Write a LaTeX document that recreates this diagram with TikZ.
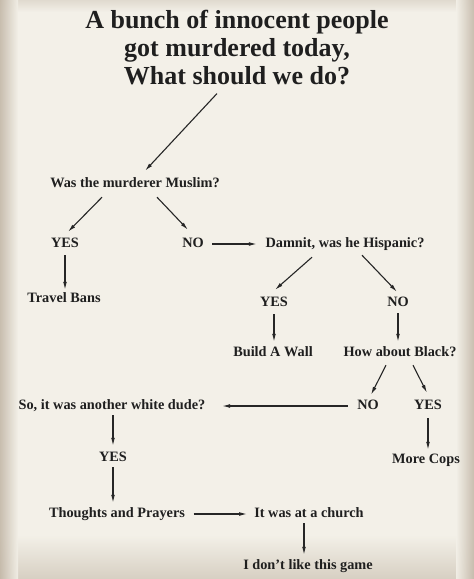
\documentclass[tikz,border=0pt]{standalone}
\usepackage{fontspec}
\setmainfont{Liberation Serif}
\usepackage{tikz}
\usetikzlibrary{arrows.meta,calc}
\definecolor{paper}{HTML}{F3F0E8}
\definecolor{edge}{HTML}{C4B9A9}

\begin{document}
\begin{tikzpicture}[x=1pt, y=-1pt, >={Latex[length=8pt,width=3.8pt]},
  t/.style={font=\fontsize{14.3}{16}\selectfont\bfseries, text=black!88, inner sep=0pt, text height=9pt, text depth=2pt},
  arr/.style={->, line width=1.1pt, black!85}]
	\useasboundingbox (0,0) rectangle (474,579);
	\fill[paper] (0,0) rectangle (474,579);
	\shade[top color=paper, bottom color=edge!60!paper] (0,535) rectangle (474,579);
	\shade[top color=edge!40!paper, bottom color=paper] (0,0) rectangle (474,12);
	\shade[left color=edge, right color=paper, opacity=0.9] (0,0) rectangle (18,579);
	\shade[left color=paper, right color=edge, opacity=0.9] (456,0) rectangle (474,579);
	\node[font=\fontsize{26}{28}\selectfont\bfseries, text=black!88, align=center, inner sep=0pt] (title) at (237,48) {A bunch of innocent people\\got murdered today,\\What should we do?};
	\node[t] (muslim) at (135,184) {Was the murderer Muslim?};
	\node[t] (yesA) at (65,244) {YES};
	\node[t] (noA) at (193,244) {NO};
	\node[t] (hisp) at (345,244) {Damnit, was he Hispanic?};
	\node[t] (bans) at (64,299) {Travel Bans};
	\node[t] (yesB) at (274,303) {YES};
	\node[t] (noB) at (398,303) {NO};
	\node[t] (wall) at (273,353) {Build A Wall};
	\node[t] (black) at (400,353) {How about Black?};
	\node[t] (white) at (112,406) {So, it was another white dude?};
	\node[t] (noC) at (368,406) {NO};
	\node[t] (yesC) at (428,406) {YES};
	\node[t] (more) at (426,460) {More Cops};
	\node[t] (yesD) at (113,458) {YES};
	\node[t] (thoughts) at (117,514) {Thoughts and Prayers};
	\node[t] (church) at (309,514) {It was at a church};
	\node[t] (dont) at (308,566) {I don’t like this game};
	% first question
	\draw[arr] ($(title.south)+(-20,8)$) -- ($(muslim.north)+(10,-7.5)$);
	\draw[arr] ($(muslim.south)+(-33,7.5)$) -- ($(yesA.north)+(3,-6.5)$);
	\draw[arr] ($(muslim.south)+(22,7.5)$) -- ($(noA.north)+(-5,-8.5)$);
	\draw[arr, shorten <=8.5pt, shorten >=8.5pt] (noA.east) -- (hisp.west);
	\draw[arr, shorten <=5.5pt, shorten >=3.5pt] (yesA.south) -- (yesA.south |- bans.north);
	% hispanic
	\draw[arr] ($(hisp.south)+(-33,7.5)$) -- ($(yesB.north)+(1,-7.5)$);
	\draw[arr] ($(hisp.south)+(17,5.5)$) -- ($(noB.north)+(-1,-5.5)$);
	\draw[arr, shorten <=5.5pt, shorten >=5.5pt] (yesB.south) -- (yesB.south |- wall.north);
	\draw[arr, shorten <=4.5pt, shorten >=5.5pt] (noB.south) -- (noB.south |- black.north);
	% black
	\draw[arr] ($(black.south)+(-14,6.5)$) -- ($(noC.north)+(3,-5.5)$);
	\draw[arr] ($(black.south)+(13,6.5)$) -- ($(yesC.north)+(-1,-7.5)$);
	\draw[arr, shorten <=6.5pt, shorten >=4.5pt] (yesC.south) -- (yesC.south |- more.north);
	\draw[arr, shorten <=9.5pt, shorten >=16.5pt] (noC.west) -- (white.east);
	% white
	\draw[arr, shorten <=3.5pt, shorten >=6.5pt] (white.south -| yesD.north) -- (yesD.north);
	\draw[arr, shorten <=3.5pt, shorten >=5.5pt] (yesD.south) -- (yesD.south |- thoughts.north);
	\draw[arr, shorten <=8.5pt, shorten >=7pt] (thoughts.east) -- (church.west);
	\draw[arr, shorten <=3.5pt, shorten >=5.5pt] ([xshift=-5pt]church.south) -- ([xshift=-5pt]church.south |- dont.north);
\end{tikzpicture}
\end{document}
